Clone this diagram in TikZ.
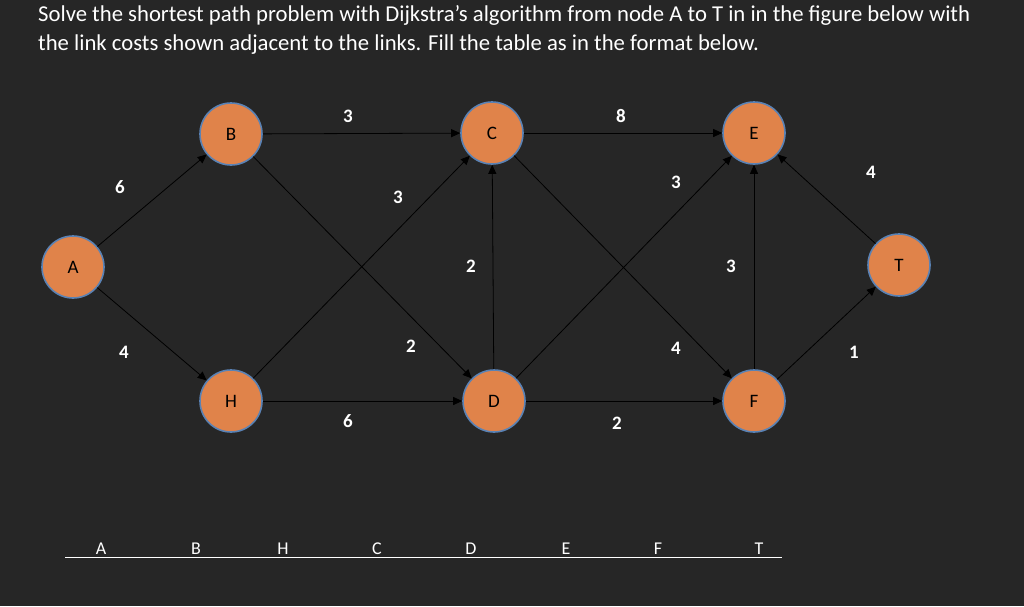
\documentclass[tikz,border=0pt]{standalone}
\usepackage{fontspec}
\setmainfont{Carlito}
\usetikzlibrary{arrows.meta}
\definecolor{bg}{HTML}{262626}
\definecolor{nodeor}{HTML}{E0834A}
\definecolor{nodebd}{HTML}{5A82B4}
\begin{document}
\begin{tikzpicture}[x=1pt,y=-1pt,
  vtx/.style={circle,fill=nodeor,draw=nodebd,line width=1.6pt,minimum size=62pt,inner sep=0pt,font=\fontsize{19}{19}\selectfont},
  edge/.style={-{Triangle[length=9pt,width=8pt]},black,line width=0.8pt},
  cost/.style={text=white,font=\bfseries\fontsize{19}{19}\selectfont},
  hd/.style={text=white,font=\fontsize{18}{18}\selectfont,anchor=base}]
\fill[bg] (0,0) rectangle (1024,606);
\useasboundingbox (0,0) rectangle (1024,606);
\node[text=white,anchor=north west,align=left,inner sep=0pt,font=\fontsize{22.7}{29.5}\selectfont] (title) at (38,5)
 {Solve the shortest path problem with Dijkstra’s algorithm from node A to T in in the figure below with\\the link costs shown adjacent to the links. Fill the table as in the format below.};
\node[vtx] (A) at (73,267) {A};
\node[vtx] (B) at (231,134) {B};
\node[vtx] (H) at (231,401) {H};
\node[vtx] (C) at (492,133) {C};
\node[vtx] (D) at (494,401) {D};
\node[vtx] (E) at (754,133) {E};
\node[vtx] (F) at (754,401) {F};
\node[vtx] (T) at (899,265) {T};
\draw[edge] (A) -- (B);
\draw[edge] (A) -- (H);
\draw[edge] (B) -- (C);
\draw[edge] (B) -- (D);
\draw[edge] (H) -- (C);
\draw[edge] (H) -- (D);
\draw[edge] (D) -- (C);
\draw[edge] (C) -- (E);
\draw[edge] (C) -- (F);
\draw[edge] (D) -- (E);
\draw[edge] (D) -- (F);
\draw[edge] (F) -- (E);
\draw[edge] (T) -- (E);
\draw[edge] (F) -- (T);
\node[cost] (c1) at (120,187) {6};
\node[cost] (c2) at (124,352) {4};
\node[cost] (c3) at (348,116) {3};
\node[cost] (c4) at (411,346) {2};
\node[cost] (c5) at (398,197) {3};
\node[cost] (c6) at (348,421) {6};
\node[cost] (c7) at (471,266) {2};
\node[cost] (c8) at (621,116) {8};
\node[cost] (c9) at (676,348) {4};
\node[cost] (c10) at (676,182) {3};
\node[cost] (c11) at (617,423) {2};
\node[cost] (c12) at (731,266) {3};
\node[cost] (c13) at (871,172) {4};
\node[cost] (c14) at (854,352) {1};
\node[hd] (tA) at (101,554) {A};
\node[hd] (tB) at (196,554) {B};
\node[hd] (tH) at (283,554) {H};
\node[hd] (tC) at (377,554) {C};
\node[hd] (tD) at (471,554) {D};
\node[hd] (tE) at (566,554) {E};
\node[hd] (tF) at (658,554) {F};
\node[hd] (tT) at (759,554) {T};
\coordinate (l1) at (65,557);
\coordinate (l2) at (782,557);
\draw[white,line width=0.8pt] (l1) -- (l2);
\end{tikzpicture}
\end{document}
